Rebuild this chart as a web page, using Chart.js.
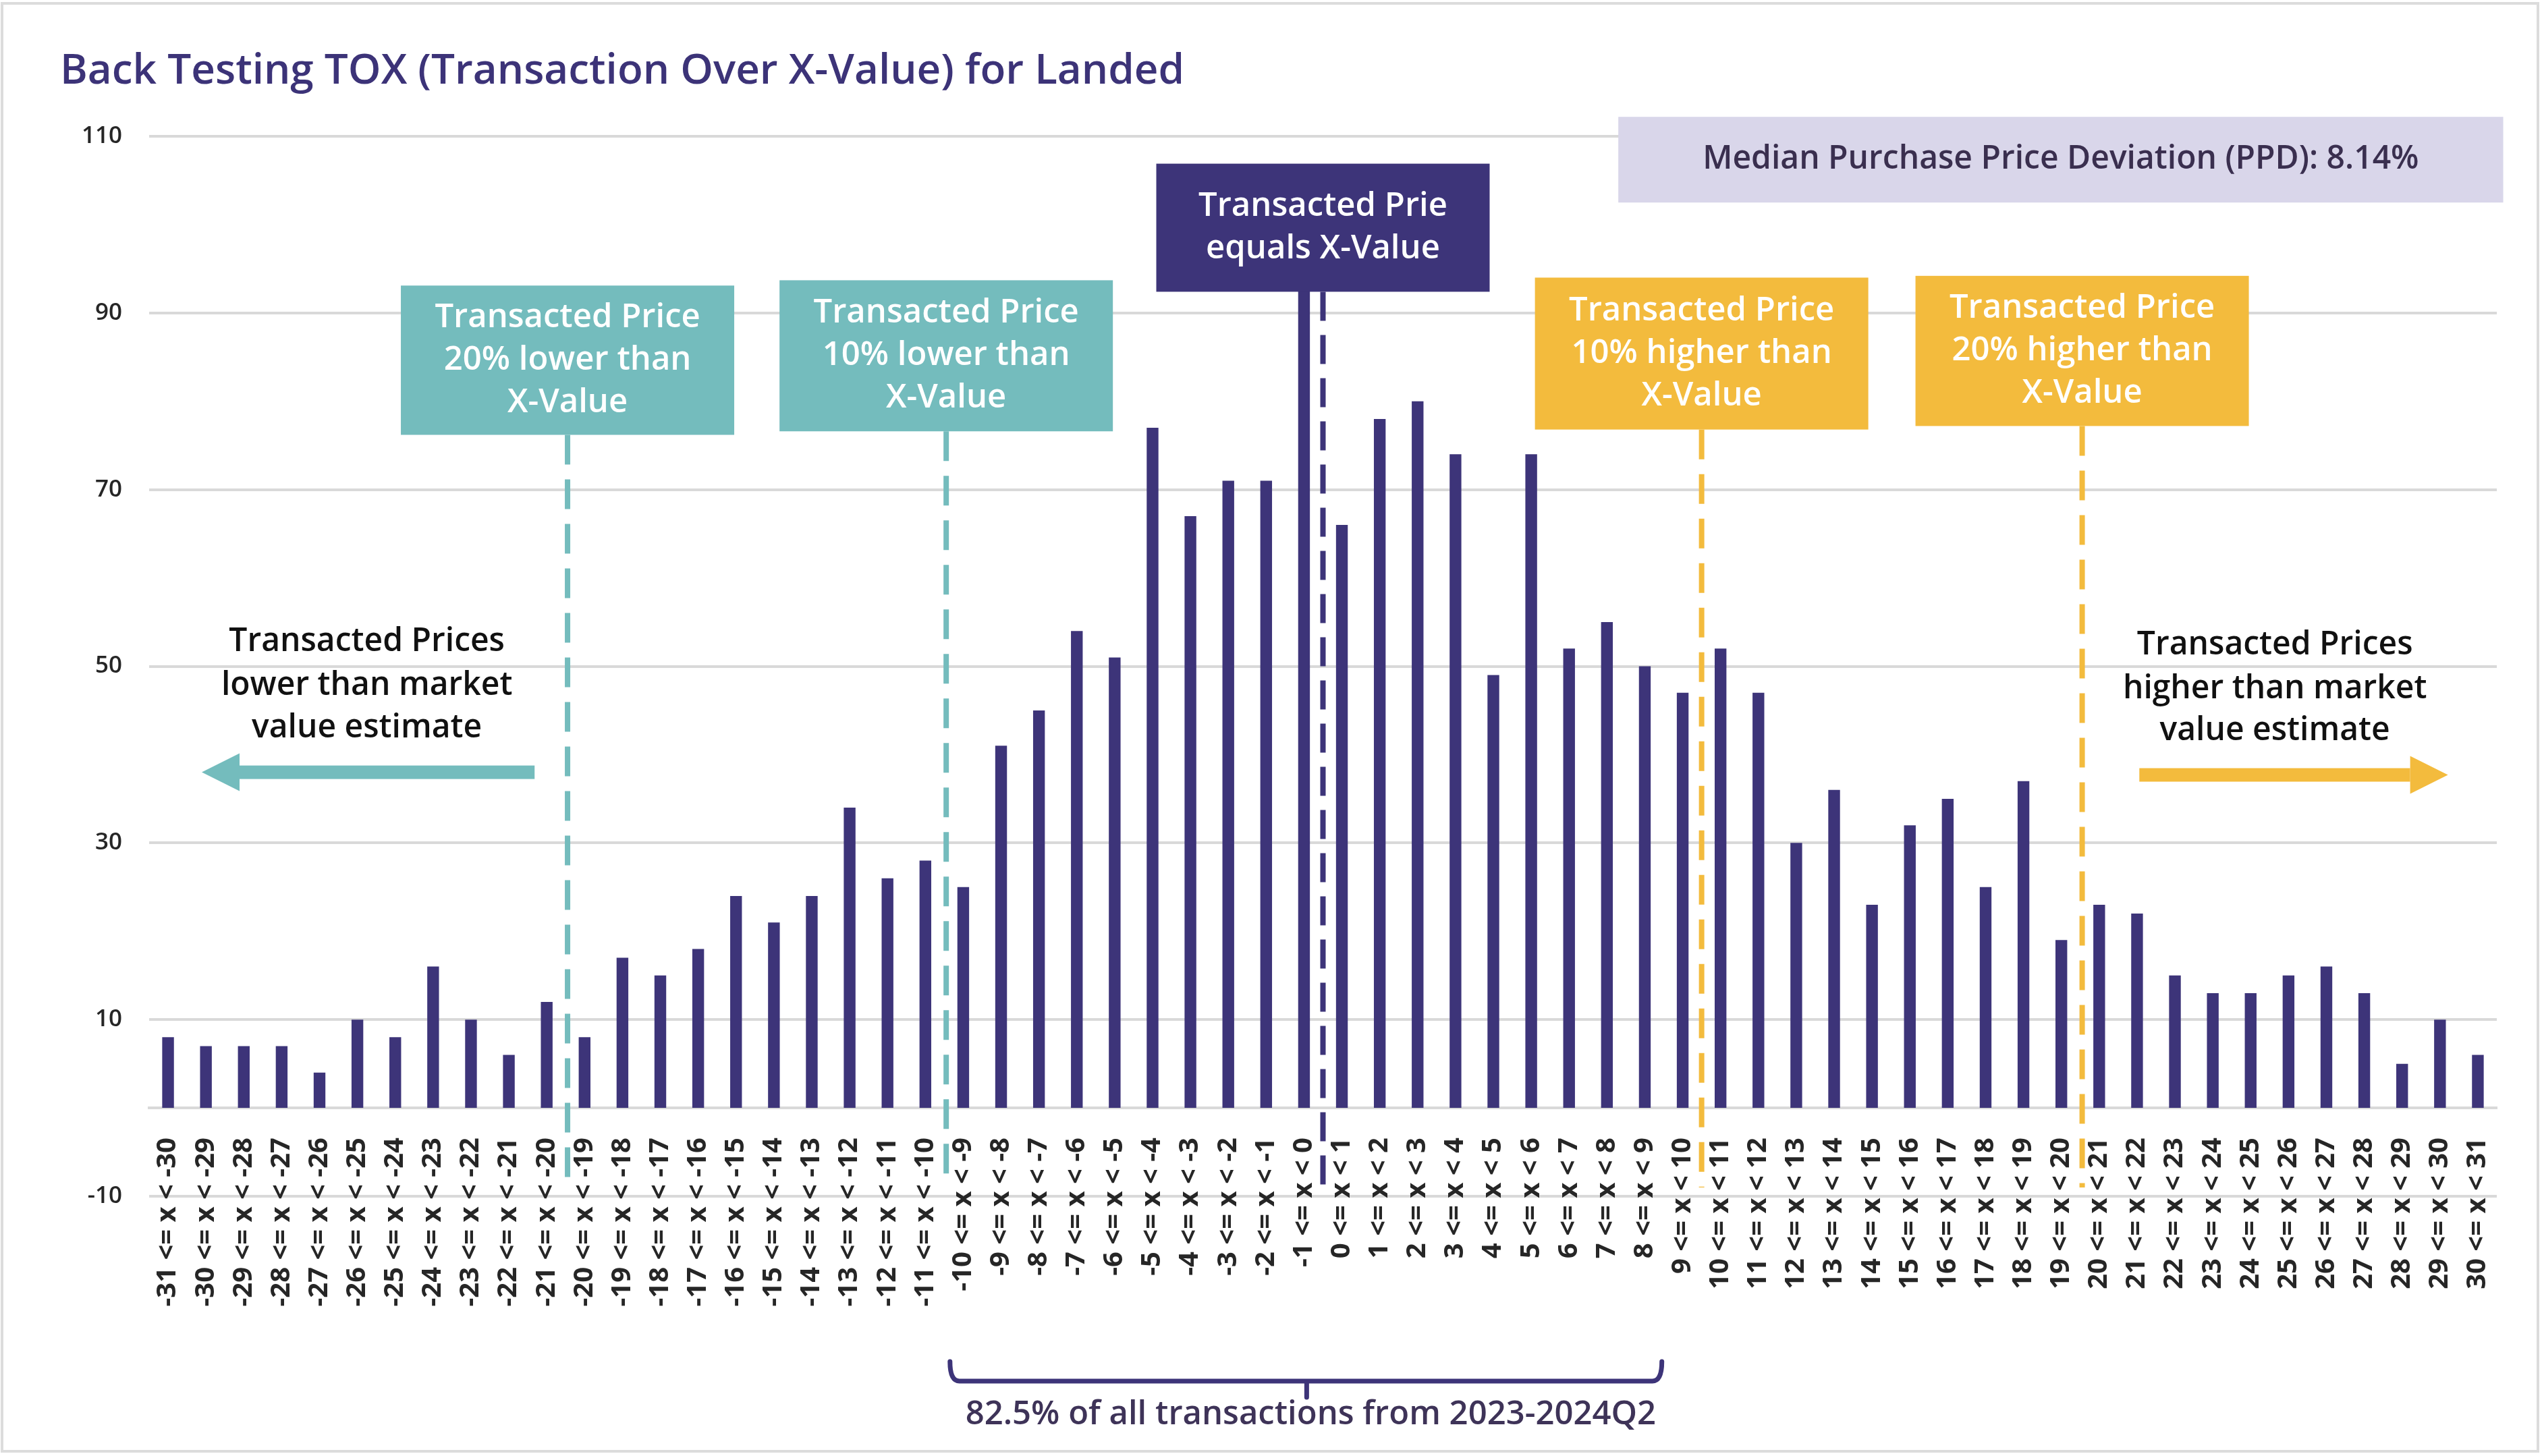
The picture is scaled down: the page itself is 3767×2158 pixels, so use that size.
<!DOCTYPE html>
<html>
<head>
<meta charset="utf-8">
<script src="https://cdn.jsdelivr.net/npm/chart.js@4.4.1/dist/chart.umd.min.js"></script>
<style>
  html, body { margin: 0; padding: 0; background: #fff; }
  #wrap { position: relative; width: 3767px; height: 2158px; }
  #frame { position: absolute; left: 1px; top: 3px; right: 4px; bottom: 5px; border: 4px solid #dcdcdc; pointer-events: none; }
</style>
</head>
<body>
<div id="wrap"><canvas id="chart"></canvas><div id="frame"></div></div>
<script>
// price deviation buckets (%)
const categories = [
  '-31 <= x < -30', '-30 <= x < -29', '-29 <= x < -28', '-28 <= x < -27', '-27 <= x < -26',
  '-26 <= x < -25', '-25 <= x < -24', '-24 <= x < -23', '-23 <= x < -22', '-22 <= x < -21',
  '-21 <= x < -20', '-20 <= x < -19', '-19 <= x < -18', '-18 <= x < -17', '-17 <= x < -16',
  '-16 <= x < -15', '-15 <= x < -14', '-14 <= x < -13', '-13 <= x < -12', '-12 <= x < -11',
  '-11 <= x < -10', '-10 <= x < -9', '-9 <= x < -8', '-8 <= x < -7', '-7 <= x < -6',
  '-6 <= x < -5', '-5 <= x < -4', '-4 <= x < -3', '-3 <= x < -2', '-2 <= x < -1',
  '-1 <= x < 0', '0 <= x < 1', '1 <= x < 2', '2 <= x < 3', '3 <= x < 4',
  '4 <= x < 5', '5 <= x < 6', '6 <= x < 7', '7 <= x < 8', '8 <= x < 9',
  '9 <= x < 10', '10 <= x < 11', '11 <= x < 12', '12 <= x < 13', '13 <= x < 14',
  '14 <= x < 15', '15 <= x < 16', '16 <= x < 17', '17 <= x < 18', '18 <= x < 19',
  '19 <= x < 20', '20 <= x < 21', '21 <= x < 22', '22 <= x < 23', '23 <= x < 24',
  '24 <= x < 25', '25 <= x < 26', '26 <= x < 27', '27 <= x < 28', '28 <= x < 29',
  '29 <= x < 30', '30 <= x < 31'
];

// number of transactions per bucket
const counts = [
  8, 7, 7, 7, 4, 10, 8, 16, 10, 6,
  12, 8, 17, 15, 18, 24, 21, 24, 34, 26,
  28, 25, 41, 45, 54, 51, 77, 67, 71, 71,
  95, 66, 78, 80, 74, 49, 74, 52, 55, 50,
  47, 52, 47, 30, 36, 23, 32, 35, 25, 37,
  19, 23, 22, 15, 13, 13, 15, 16, 13, 5,
  10, 6
];

const yMin = -10;
const yMax = 110;
const yStep = 20;

// marker lines (category position) and their call-out boxes
const markerPos = [10.55, 20.55, 30.5, 40.5, 50.55];
const markerText = [
  ['Transacted Price', '20% lower than', 'X-Value'],
  ['Transacted Price', '10% lower than', 'X-Value'],
  ['Transacted Prie', 'equals X-Value'],
  ['Transacted Price', '10% higher than', 'X-Value'],
  ['Transacted Price', '20% higher than', 'X-Value']
];
const markerTop = [93.1, 93.7, 106.9, 94.0, 94.2];
const markerBottom = [76.2, 76.6, 92.4, 76.8, 77.2];

const titleText = 'Back Testing TOX (Transaction Over X-Value) for Landed';
const ppdText = 'Median Purchase Price Deviation (PPD): 8.14%';
const lowerText = ['Transacted Prices', 'lower than market', 'value estimate'];
const higherText = ['Transacted Prices', 'higher than market', 'value estimate'];
const bracketText = '82.5% of all transactions from 2023-2024Q2';

const BAR = '#3d3479';
const TEAL = '#74bcbd';
const YELLOW = '#f3bb3d';
const LILAC = '#d9d6ea';
const GRID = '#d9d9d9';
const FONT = "'Open Sans', 'DejaVu Sans', sans-serif";
const markerColors = [TEAL, TEAL, BAR, YELLOW, YELLOW];

function arrow(ctx, x0, x1, yy, color) {
  const dir = Math.sign(x1 - x0);
  const head = 56;
  ctx.fillStyle = color;
  ctx.fillRect(Math.min(x0, x1 - dir * head), yy - 10, Math.abs(x1 - x0) - head, 20);
  ctx.beginPath();
  ctx.moveTo(x1, yy);
  ctx.lineTo(x1 - dir * head, yy - 28);
  ctx.lineTo(x1 - dir * head, yy + 28);
  ctx.closePath();
  ctx.fill();
}

const overlay = {
  id: 'overlay',
  afterDatasetsDraw(chart) {
    const { ctx, chartArea } = chart;
    const x = chart.scales.x, y = chart.scales.y;
    ctx.save();

    // dashed reference lines
    markerPos.forEach((p, i) => {
      const px = x.getPixelForValue(p);
      ctx.strokeStyle = markerColors[i];
      ctx.lineWidth = 8;
      ctx.setLineDash(i === 2 ? [43, 21] : [44, 22]);
      ctx.beginPath();
      ctx.moveTo(px, y.getPixelForValue(markerBottom[i]));
      ctx.lineTo(px, y.getPixelForValue(-9));
      ctx.stroke();
    });
    ctx.setLineDash([]);

    // call-out boxes
    ctx.textAlign = 'center';
    ctx.textBaseline = 'middle';
    ctx.font = `600 49px ${FONT}`;
    markerPos.forEach((p, i) => {
      const px = x.getPixelForValue(p);
      const top = y.getPixelForValue(markerTop[i]);
      const bot = y.getPixelForValue(markerBottom[i]);
      ctx.fillStyle = markerColors[i];
      ctx.fillRect(px - 247, top, 494, bot - top);
      ctx.fillStyle = '#ffffff';
      const lines = markerText[i];
      const mid = (top + bot) / 2;
      lines.forEach((t, k) => {
        ctx.fillText(t, px, mid + (k - (lines.length - 1) / 2) * 63);
      });
    });

    // PPD box
    const pl = x.getPixelForValue(38.3), pr = x.getPixelForValue(61.67);
    const pt = y.getPixelForValue(112.2), pb = y.getPixelForValue(102.5);
    ctx.fillStyle = LILAC;
    ctx.fillRect(pl, pt, pr - pl, pb - pt);
    ctx.fillStyle = '#3a2f4f';
    ctx.font = `600 48px ${FONT}`;
    ctx.fillText(ppdText, (pl + pr) / 2, (pt + pb) / 2);

    // direction notes with arrows
    ctx.font = `600 48px ${FONT}`;
    ctx.fillStyle = '#111111';
    const lowY = [52.75, 47.8, 43.0];
    lowerText.forEach((t, k) => ctx.fillText(t, x.getPixelForValue(5.25), y.getPixelForValue(lowY[k])));
    const highY = [52.4, 47.4, 42.7];
    higherText.forEach((t, k) => ctx.fillText(t, x.getPixelForValue(55.64), y.getPixelForValue(highY[k])));
    arrow(ctx, x.getPixelForValue(9.68), x.getPixelForValue(0.89), y.getPixelForValue(38.0), TEAL);
    arrow(ctx, x.getPixelForValue(52.06), x.getPixelForValue(60.21), y.getPixelForValue(37.7), YELLOW);

    // bracket under the central range
    const bl = x.getPixelForValue(20.65), br = x.getPixelForValue(39.45), bm = x.getPixelForValue(30.07);
    const b0 = chartArea.bottom + 245, b1 = chartArea.bottom + 274;
    ctx.strokeStyle = BAR;
    ctx.lineWidth = 7;
    ctx.lineJoin = 'round';
    ctx.lineCap = 'round';
    ctx.beginPath();
    ctx.moveTo(bl, b0);
    ctx.quadraticCurveTo(bl, b1, bl + 14, b1);
    ctx.lineTo(br - 14, b1);
    ctx.quadraticCurveTo(br, b1, br, b0);
    ctx.moveTo(bm, b1);
    ctx.lineTo(bm, b1 + 24);
    ctx.stroke();
    ctx.fillStyle = '#3e3358';
    ctx.font = `600 49px ${FONT}`;
    ctx.fillText(bracketText, bm + 6, chartArea.bottom + 324);

    ctx.restore();
  },
  afterDraw(chart) {
    const ctx = chart.ctx;
    ctx.save();
    ctx.fillStyle = '#3c3378';
    ctx.font = `600 62px ${FONT}`;
    ctx.textAlign = 'left';
    ctx.textBaseline = 'middle';
    ctx.fillText(titleText, 89, 106);
    ctx.restore();
  }
};

const ctx = document.getElementById('chart');
new Chart(ctx, {
  type: 'bar',
  data: {
    labels: categories,
    datasets: [{
      data: counts,
      backgroundColor: BAR,
      barPercentage: 0.31,
      categoryPercentage: 1
    }]
  },
  options: {
    responsive: true,
    maintainAspectRatio: false,
    animation: false,
    devicePixelRatio: 1,
    layout: { padding: { top: 202, right: 67, bottom: 385, left: 0 } },
    plugins: {
      legend: { display: false },
      tooltip: { enabled: false }
    },
    scales: {
      x: {
        position: { y: 0 },
        grid: { display: false },
        border: { display: true, color: GRID, width: 4 },
        ticks: {
          autoSkip: false,
          minRotation: 90,
          maxRotation: 90,
          padding: 36,
          color: '#262626',
          font: { family: FONT, size: 40, weight: 'bold' }
        }
      },
      y: {
        min: yMin,
        max: yMax,
        afterFit(s) { s.width = 221; },
        ticks: {
          stepSize: yStep,
          padding: 40,
          color: '#262626',
          font: { family: FONT, size: 35, weight: '600' }
        },
        grid: { color: GRID, lineWidth: 4, drawTicks: false },
        border: { display: false }
      }
    }
  },
  plugins: [overlay]
});
</script>
</body>
</html>
